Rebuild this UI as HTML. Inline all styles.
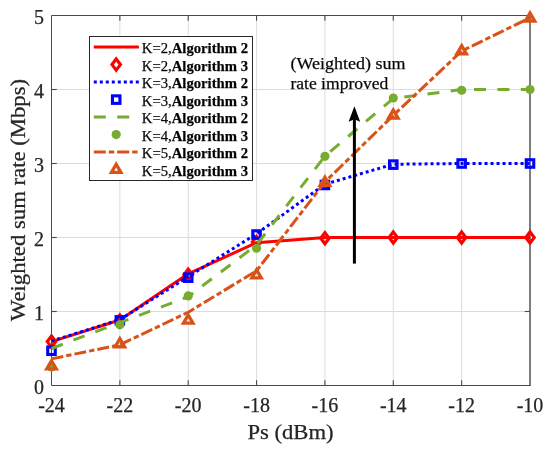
<!DOCTYPE html>
<html><head><meta charset="utf-8"><style>
html,body{margin:0;padding:0;background:#fff;}
svg{display:block;font-family:'Liberation Serif','Times New Roman',serif;}
text{stroke:#222;stroke-width:0.25px;}
</style></head><body>
<svg width="550" height="449" viewBox="0 0 550 449">
<rect width="550" height="449" fill="#fff"/>
<line x1="119.86" y1="15.5" x2="119.86" y2="385.5" stroke="#dcdcdc" stroke-width="1"/>
<line x1="188.21" y1="15.5" x2="188.21" y2="385.5" stroke="#dcdcdc" stroke-width="1"/>
<line x1="256.57" y1="15.5" x2="256.57" y2="385.5" stroke="#dcdcdc" stroke-width="1"/>
<line x1="324.93" y1="15.5" x2="324.93" y2="385.5" stroke="#dcdcdc" stroke-width="1"/>
<line x1="393.29" y1="15.5" x2="393.29" y2="385.5" stroke="#dcdcdc" stroke-width="1"/>
<line x1="461.64" y1="15.5" x2="461.64" y2="385.5" stroke="#dcdcdc" stroke-width="1"/>
<line x1="51.5" y1="311.50" x2="530.0" y2="311.50" stroke="#dcdcdc" stroke-width="1"/>
<line x1="51.5" y1="237.50" x2="530.0" y2="237.50" stroke="#dcdcdc" stroke-width="1"/>
<line x1="51.5" y1="163.50" x2="530.0" y2="163.50" stroke="#dcdcdc" stroke-width="1"/>
<line x1="51.5" y1="89.50" x2="530.0" y2="89.50" stroke="#dcdcdc" stroke-width="1"/>
<path d="M51.5,385.5V15.5H530.0" fill="none" stroke="#4a4a4a" stroke-width="1"/>
<path d="M51.5,385.5H530.0" fill="none" stroke="#4a4a4a" stroke-width="1"/>
<path d="M530.0,15.5V386.0" fill="none" stroke="#262626" stroke-width="1.2"/>
<line x1="119.86" y1="385.5" x2="119.86" y2="380.2" stroke="#4a4a4a" stroke-width="1.1"/>
<line x1="119.86" y1="15.5" x2="119.86" y2="20.8" stroke="#4a4a4a" stroke-width="1.1"/>
<line x1="188.21" y1="385.5" x2="188.21" y2="380.2" stroke="#4a4a4a" stroke-width="1.1"/>
<line x1="188.21" y1="15.5" x2="188.21" y2="20.8" stroke="#4a4a4a" stroke-width="1.1"/>
<line x1="256.57" y1="385.5" x2="256.57" y2="380.2" stroke="#4a4a4a" stroke-width="1.1"/>
<line x1="256.57" y1="15.5" x2="256.57" y2="20.8" stroke="#4a4a4a" stroke-width="1.1"/>
<line x1="324.93" y1="385.5" x2="324.93" y2="380.2" stroke="#4a4a4a" stroke-width="1.1"/>
<line x1="324.93" y1="15.5" x2="324.93" y2="20.8" stroke="#4a4a4a" stroke-width="1.1"/>
<line x1="393.29" y1="385.5" x2="393.29" y2="380.2" stroke="#4a4a4a" stroke-width="1.1"/>
<line x1="393.29" y1="15.5" x2="393.29" y2="20.8" stroke="#4a4a4a" stroke-width="1.1"/>
<line x1="461.64" y1="385.5" x2="461.64" y2="380.2" stroke="#4a4a4a" stroke-width="1.1"/>
<line x1="461.64" y1="15.5" x2="461.64" y2="20.8" stroke="#4a4a4a" stroke-width="1.1"/>
<line x1="51.5" y1="311.50" x2="56.8" y2="311.50" stroke="#4a4a4a" stroke-width="1.1"/>
<line x1="530.0" y1="311.50" x2="524.7" y2="311.50" stroke="#4a4a4a" stroke-width="1.1"/>
<line x1="51.5" y1="237.50" x2="56.8" y2="237.50" stroke="#4a4a4a" stroke-width="1.1"/>
<line x1="530.0" y1="237.50" x2="524.7" y2="237.50" stroke="#4a4a4a" stroke-width="1.1"/>
<line x1="51.5" y1="163.50" x2="56.8" y2="163.50" stroke="#4a4a4a" stroke-width="1.1"/>
<line x1="530.0" y1="163.50" x2="524.7" y2="163.50" stroke="#4a4a4a" stroke-width="1.1"/>
<line x1="51.5" y1="89.50" x2="56.8" y2="89.50" stroke="#4a4a4a" stroke-width="1.1"/>
<line x1="530.0" y1="89.50" x2="524.7" y2="89.50" stroke="#4a4a4a" stroke-width="1.1"/>
<polyline points="51.50,341.62 119.86,320.01 188.21,273.76 256.57,242.68 324.93,237.50 393.29,237.50 461.64,237.50 530.00,237.50" fill="none" stroke="#ff0000" stroke-width="3.0" stroke-linejoin="round"/>
<path d="M51.50,336.02L55.70,341.62L51.50,347.22L47.30,341.62Z" fill="none" stroke="#ff0000" stroke-width="3.2" stroke-linejoin="miter"/>
<path d="M119.86,314.93L124.06,320.53L119.86,326.13L115.66,320.53Z" fill="none" stroke="#ff0000" stroke-width="3.2" stroke-linejoin="miter"/>
<path d="M188.21,269.27L192.41,274.87L188.21,280.47L184.01,274.87Z" fill="none" stroke="#ff0000" stroke-width="3.2" stroke-linejoin="miter"/>
<path d="M256.57,236.34L260.77,241.94L256.57,247.54L252.37,241.94Z" fill="none" stroke="#ff0000" stroke-width="3.2" stroke-linejoin="miter"/>
<path d="M324.93,232.64L329.13,238.24L324.93,243.84L320.73,238.24Z" fill="none" stroke="#ff0000" stroke-width="3.2" stroke-linejoin="miter"/>
<path d="M393.29,231.90L397.49,237.50L393.29,243.10L389.09,237.50Z" fill="none" stroke="#ff0000" stroke-width="3.2" stroke-linejoin="miter"/>
<path d="M461.64,231.90L465.84,237.50L461.64,243.10L457.44,237.50Z" fill="none" stroke="#ff0000" stroke-width="3.2" stroke-linejoin="miter"/>
<path d="M530.00,231.90L534.20,237.50L530.00,243.10L525.80,237.50Z" fill="none" stroke="#ff0000" stroke-width="3.2" stroke-linejoin="miter"/>
<polyline points="51.50,341.10 119.86,319.64 188.21,276.72 256.57,233.80 324.93,184.22 393.29,164.24 461.64,163.50 530.00,163.50" fill="none" stroke="#0000ff" stroke-width="3.0" stroke-linejoin="round" stroke-dasharray="3 3"/>
<rect x="47.75" y="346.97" width="7.50" height="7.50" fill="none" stroke="#0000ff" stroke-width="3.1"/>
<rect x="116.11" y="316.63" width="7.50" height="7.50" fill="none" stroke="#0000ff" stroke-width="3.1"/>
<rect x="184.46" y="273.93" width="7.50" height="7.50" fill="none" stroke="#0000ff" stroke-width="3.1"/>
<rect x="252.82" y="230.79" width="7.50" height="7.50" fill="none" stroke="#0000ff" stroke-width="3.1"/>
<rect x="321.18" y="181.21" width="7.50" height="7.50" fill="none" stroke="#0000ff" stroke-width="3.1"/>
<rect x="389.54" y="160.86" width="7.50" height="7.50" fill="none" stroke="#0000ff" stroke-width="3.1"/>
<rect x="457.89" y="159.75" width="7.50" height="7.50" fill="none" stroke="#0000ff" stroke-width="3.1"/>
<rect x="526.25" y="159.75" width="7.50" height="7.50" fill="none" stroke="#0000ff" stroke-width="3.1"/>
<polyline points="51.50,348.50 119.86,322.60 188.21,296.70 256.57,244.90 324.93,156.10 393.29,98.38 461.64,89.50 530.00,89.50" fill="none" stroke="#77ac30" stroke-width="3.0" stroke-linejoin="round" stroke-dasharray="12 11.4"/>
<circle cx="51.50" cy="367.00" r="4.6" fill="#77ac30"/>
<circle cx="119.86" cy="324.82" r="4.6" fill="#77ac30"/>
<circle cx="188.21" cy="295.96" r="4.6" fill="#77ac30"/>
<circle cx="256.57" cy="248.23" r="4.6" fill="#77ac30"/>
<circle cx="324.93" cy="156.32" r="4.6" fill="#77ac30"/>
<circle cx="393.29" cy="98.01" r="4.6" fill="#77ac30"/>
<circle cx="461.64" cy="90.24" r="4.6" fill="#77ac30"/>
<circle cx="530.00" cy="89.50" r="4.6" fill="#77ac30"/>
<polyline points="51.50,358.86 119.86,344.80 188.21,312.24 256.57,270.80 324.93,182.00 393.29,115.40 461.64,51.02 530.00,17.72" fill="none" stroke="#d95319" stroke-width="3.0" stroke-linejoin="round" stroke-dasharray="12 3 5.4 3"/>
<path d="M51.50,360.89L56.23,368.97L46.77,368.97Z" fill="none" stroke="#d95319" stroke-width="3.3" stroke-linejoin="miter"/>
<path d="M119.86,338.69L124.59,346.77L115.13,346.77Z" fill="none" stroke="#d95319" stroke-width="3.3" stroke-linejoin="miter"/>
<path d="M188.21,315.01L192.94,323.09L183.48,323.09Z" fill="none" stroke="#d95319" stroke-width="3.3" stroke-linejoin="miter"/>
<path d="M256.57,269.87L261.30,277.95L251.84,277.95Z" fill="none" stroke="#d95319" stroke-width="3.3" stroke-linejoin="miter"/>
<path d="M324.93,177.37L329.66,185.45L320.20,185.45Z" fill="none" stroke="#d95319" stroke-width="3.3" stroke-linejoin="miter"/>
<path d="M393.29,110.03L398.02,118.11L388.56,118.11Z" fill="none" stroke="#d95319" stroke-width="3.3" stroke-linejoin="miter"/>
<path d="M461.64,45.65L466.37,53.73L456.91,53.73Z" fill="none" stroke="#d95319" stroke-width="3.3" stroke-linejoin="miter"/>
<path d="M530.00,13.09L534.73,21.17L525.27,21.17Z" fill="none" stroke="#d95319" stroke-width="3.3" stroke-linejoin="miter"/>
<text x="51.50" y="411.7" font-size="20" text-anchor="middle" fill="#262626">-24</text>
<text x="119.86" y="411.7" font-size="20" text-anchor="middle" fill="#262626">-22</text>
<text x="188.21" y="411.7" font-size="20" text-anchor="middle" fill="#262626">-20</text>
<text x="256.57" y="411.7" font-size="20" text-anchor="middle" fill="#262626">-18</text>
<text x="324.93" y="411.7" font-size="20" text-anchor="middle" fill="#262626">-16</text>
<text x="393.29" y="411.7" font-size="20" text-anchor="middle" fill="#262626">-14</text>
<text x="461.64" y="411.7" font-size="20" text-anchor="middle" fill="#262626">-12</text>
<text x="530.00" y="411.7" font-size="20" text-anchor="middle" fill="#262626">-10</text>
<text x="44.0" y="393.80" font-size="20" text-anchor="end" fill="#262626">0</text>
<text x="44.0" y="319.80" font-size="20" text-anchor="end" fill="#262626">1</text>
<text x="44.0" y="245.80" font-size="20" text-anchor="end" fill="#262626">2</text>
<text x="44.0" y="171.80" font-size="20" text-anchor="end" fill="#262626">3</text>
<text x="44.0" y="97.80" font-size="20" text-anchor="end" fill="#262626">4</text>
<text x="44.0" y="23.80" font-size="20" text-anchor="end" fill="#262626">5</text>
<text x="247.4" y="438.6" font-size="20.5" textLength="86.2" lengthAdjust="spacingAndGlyphs" fill="#262626">Ps (dBm)</text>
<text transform="translate(24.9,321.2) rotate(-90)" font-size="20.5" textLength="242.3" lengthAdjust="spacingAndGlyphs" fill="#262626">Weighted sum rate (Mbps)</text>
<line x1="354.4" y1="263.6" x2="354.4" y2="118" stroke="#000" stroke-width="3"/>
<path d="M354.4,106.3L360.2,121.7L354.4,119.2L348.6,121.7Z" fill="#000"/>
<text x="290.4" y="69.3" font-size="16.5" textLength="115" lengthAdjust="spacingAndGlyphs" fill="#000">(Weighted) sum</text>
<text x="290.4" y="89.2" font-size="16.5" textLength="98" lengthAdjust="spacingAndGlyphs" fill="#000">rate improved</text>
<rect x="89.5" y="36.5" width="163.00" height="144.00" fill="#fff" stroke="#262626" stroke-width="1"/>
<line x1="93.8" y1="47.10" x2="138.9" y2="47.10" stroke="#ff0000" stroke-width="3.0"/>
<path d="M116.20,59.00L120.40,64.60L116.20,70.20L112.00,64.60Z" fill="none" stroke="#ff0000" stroke-width="3.2" stroke-linejoin="miter"/>
<line x1="93.8" y1="82.10" x2="138.9" y2="82.10" stroke="#0000ff" stroke-width="3.0" stroke-dasharray="3 3"/>
<rect x="112.45" y="95.85" width="7.50" height="7.50" fill="none" stroke="#0000ff" stroke-width="3.1"/>
<line x1="93.8" y1="117.10" x2="138.9" y2="117.10" stroke="#77ac30" stroke-width="3.0" stroke-dasharray="12 11.4"/>
<circle cx="116.20" cy="134.60" r="4.6" fill="#77ac30"/>
<line x1="93.8" y1="152.10" x2="138.9" y2="152.10" stroke="#d95319" stroke-width="3.0" stroke-dasharray="12 3 5.4 3"/>
<path d="M116.20,164.23L120.93,172.31L111.47,172.31Z" fill="none" stroke="#d95319" stroke-width="3.3" stroke-linejoin="miter"/>
<text x="141.8" y="53.10" font-size="14.5" textLength="106.2" lengthAdjust="spacingAndGlyphs" fill="#000">K=2,<tspan font-weight="bold">Algorithm 2</tspan></text>
<text x="141.8" y="70.60" font-size="14.5" textLength="106.2" lengthAdjust="spacingAndGlyphs" fill="#000">K=2,<tspan font-weight="bold">Algorithm 3</tspan></text>
<text x="141.8" y="88.10" font-size="14.5" textLength="106.2" lengthAdjust="spacingAndGlyphs" fill="#000">K=3,<tspan font-weight="bold">Algorithm 2</tspan></text>
<text x="141.8" y="105.60" font-size="14.5" textLength="106.2" lengthAdjust="spacingAndGlyphs" fill="#000">K=3,<tspan font-weight="bold">Algorithm 3</tspan></text>
<text x="141.8" y="123.10" font-size="14.5" textLength="106.2" lengthAdjust="spacingAndGlyphs" fill="#000">K=4,<tspan font-weight="bold">Algorithm 2</tspan></text>
<text x="141.8" y="140.60" font-size="14.5" textLength="106.2" lengthAdjust="spacingAndGlyphs" fill="#000">K=4,<tspan font-weight="bold">Algorithm 3</tspan></text>
<text x="141.8" y="158.10" font-size="14.5" textLength="106.2" lengthAdjust="spacingAndGlyphs" fill="#000">K=5,<tspan font-weight="bold">Algorithm 2</tspan></text>
<text x="141.8" y="175.60" font-size="14.5" textLength="106.2" lengthAdjust="spacingAndGlyphs" fill="#000">K=5,<tspan font-weight="bold">Algorithm 3</tspan></text>
</svg>
</body></html>
